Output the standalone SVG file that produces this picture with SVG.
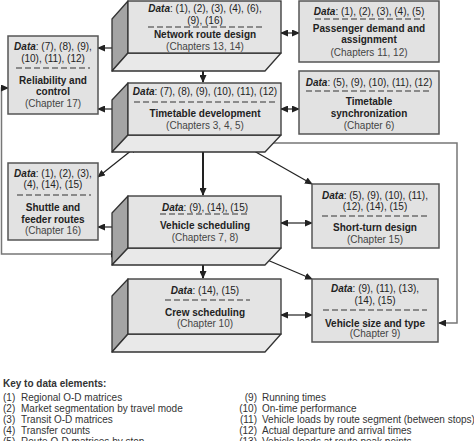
<svg xmlns="http://www.w3.org/2000/svg" width="474" height="441" viewBox="0 0 474 441">
<style>
text{font-family:"Liberation Sans",Arial,sans-serif;font-size:10px;fill:#222;text-anchor:middle}
.b{font-weight:bold}
.d{font-weight:bold;font-style:italic}
.c{fill:#444}
.k{text-anchor:start;fill:#333}
.kr{text-anchor:end;fill:#333}
.front{fill:#e4e4e4;stroke:#333;stroke-width:1.3}
.side{fill:#a4a4a4;stroke:#333;stroke-width:1.3;stroke-linejoin:round}
.bot{fill:#e9e9e9;stroke:#333;stroke-width:1.3;stroke-linejoin:round}
.box{fill:#e2e2e2;stroke:#555;stroke-width:1.5}
.dash{stroke:#333;stroke-width:1.2;stroke-dasharray:6 3;fill:none}
.ar{stroke:#222;stroke-width:1.2;fill:none}
.ar2{stroke:#222;stroke-width:2;fill:none}
.ln{stroke:#777;stroke-width:1.5;fill:none}
</style>
<defs>
<marker id="ah" markerUnits="userSpaceOnUse" markerWidth="8" markerHeight="7" refX="7" refY="3.5" orient="auto-start-reverse">
<path d="M0,0 L8,3.5 L0,7 z" fill="#222"/>
</marker>
</defs>

<g id="connectors">
<path class="ar2" d="M203,64 V82" marker-end="url(#ah)"/>
<path class="ar2" d="M203,147 V195" marker-end="url(#ah)"/>
<path class="ar2" d="M203,256 V278" marker-end="url(#ah)"/>
<path class="ar" d="M98,48 H121" marker-start="url(#ah)" marker-end="url(#ah)"/>
<path class="ar" d="M98,109 H121" marker-start="url(#ah)" marker-end="url(#ah)"/>
<path class="ar" d="M281,33 H299" marker-start="url(#ah)" marker-end="url(#ah)"/>
<path class="ar" d="M281,109 H299" marker-start="url(#ah)" marker-end="url(#ah)"/>
<path class="ar" d="M98,227 H121" marker-start="url(#ah)" marker-end="url(#ah)"/>
<path class="ar" d="M281,223 H312" marker-start="url(#ah)" marker-end="url(#ah)"/>
<path class="ar" d="M281,315 H312" marker-start="url(#ah)" marker-end="url(#ah)"/>
<path class="ar" d="M98,177 L137,146" marker-start="url(#ah)" marker-end="url(#ah)"/>
<path class="ar" d="M240,143 L312,184" marker-start="url(#ah)" marker-end="url(#ah)"/>
<path class="ar" d="M258,256 L312,279" marker-start="url(#ah)" marker-end="url(#ah)"/>
<path class="ln" d="M8,88 H1.5 V254 H118" marker-start="url(#ah)" marker-end="url(#ah)"/>
<path class="ln" d="M260,143 H457 V323 H439" marker-start="url(#ah)" marker-end="url(#ah)"/>
</g>

<g id="network">
<polygon class="side" points="128,1 112,19 112,71 128,53"/>
<polygon class="bot" points="128,53 281,53 265,71 112,71"/>
<rect class="front" x="128" y="1" width="153" height="52"/>
<text x="205" y="12"><tspan class="d">Data</tspan>: (1), (2), (3), (4), (6),</text>
<text x="205" y="24">(9), (16)</text>
<line class="dash" x1="148" y1="27" x2="262" y2="27"/>
<text class="b" x="205" y="38">Network route design</text>
<text class="c" x="205" y="50">(Chapters 13, 14)</text>
</g>

<g id="timetable">
<polygon class="side" points="128,83 112,100 112,152 128,135"/>
<polygon class="bot" points="128,135 281,135 265,152 112,152"/>
<rect class="front" x="128" y="83" width="153" height="52"/>
<text x="205" y="95"><tspan class="d">Data</tspan>: (7), (8), (9), (10), (11), (12)</text>
<line class="dash" x1="134" y1="102" x2="275" y2="102"/>
<text class="b" x="205" y="117">Timetable development</text>
<text class="c" x="205" y="129">(Chapters 3, 4, 5)</text>
</g>

<g id="vehiclescheduling">
<polygon class="side" points="128,196 112,213 112,265 128,248"/>
<polygon class="bot" points="128,248 281,248 265,265 112,265"/>
<rect class="front" x="128" y="196" width="153" height="52"/>
<text x="205" y="211"><tspan class="d">Data</tspan>: (9), (14), (15)</text>
<line class="dash" x1="160" y1="214" x2="248" y2="214"/>
<text class="b" x="205" y="229">Vehicle scheduling</text>
<text class="c" x="205" y="241">(Chapters 7, 8)</text>
</g>

<g id="crew">
<polygon class="side" points="128,279 112,296 112,352 128,334"/>
<polygon class="bot" points="128,334 281,334 265,352 112,352"/>
<rect class="front" x="128" y="279" width="153" height="55"/>
<text x="205" y="294"><tspan class="d">Data</tspan>: (14), (15)</text>
<line class="dash" x1="165" y1="300" x2="250" y2="300"/>
<text class="b" x="205" y="316">Crew scheduling</text>
<text class="c" x="205" y="327">(Chapter 10)</text>
</g>

<g id="reliability">
<rect class="box" x="8" y="36" width="90" height="78"/>
<text x="53" y="50"><tspan class="d">Data</tspan>: (7), (8), (9),</text>
<text x="53" y="62">(10), (11), (12)</text>
<line class="dash" x1="16" y1="68" x2="90" y2="68"/>
<text class="b" x="53" y="84">Reliability and</text>
<text class="b" x="53" y="95">control</text>
<text class="c" x="53" y="107">(Chapter 17)</text>
</g>

<g id="shuttle">
<rect class="box" x="8" y="163" width="90" height="77"/>
<text x="53" y="177"><tspan class="d">Data</tspan>: (1), (2), (3),</text>
<text x="53" y="188">(4), (14), (15)</text>
<line class="dash" x1="17" y1="195" x2="91" y2="195"/>
<text class="b" x="53" y="211">Shuttle and</text>
<text class="b" x="53" y="223">feeder routes</text>
<text class="c" x="53" y="234">(Chapter 16)</text>
</g>

<g id="passenger">
<rect class="box" x="299" y="1" width="140" height="61"/>
<text x="369" y="15"><tspan class="d">Data</tspan>: (1), (2), (3), (4), (5)</text>
<line class="dash" x1="315" y1="19" x2="425" y2="19"/>
<text class="b" x="369" y="32">Passenger demand and</text>
<text class="b" x="369" y="43">assignment</text>
<text class="c" x="369" y="56">(Chapters 11, 12)</text>
</g>

<g id="sync">
<rect class="box" x="299" y="71" width="140" height="63"/>
<text x="369" y="86"><tspan class="d">Data</tspan>: (5), (9), (10), (11), (12)</text>
<line class="dash" x1="306" y1="91" x2="431" y2="91"/>
<text class="b" x="369" y="105">Timetable</text>
<text class="b" x="369" y="117">synchronization</text>
<text class="c" x="369" y="129">(Chapter 6)</text>
</g>

<g id="shortturn">
<rect class="box" x="312" y="184" width="127" height="64"/>
<text x="375" y="199"><tspan class="d">Data</tspan>: (5), (9), (10), (11),</text>
<text x="375" y="210">(12), (14), (15)</text>
<line class="dash" x1="322" y1="216" x2="427" y2="216"/>
<text class="b" x="375" y="231">Short-turn design</text>
<text class="c" x="375" y="243">(Chapter 15)</text>
</g>

<g id="vehiclesize">
<rect class="box" x="312" y="279" width="126" height="63"/>
<text x="375" y="292"><tspan class="d">Data</tspan>: (9), (11), (13),</text>
<text x="375" y="304">(14), (15)</text>
<line class="dash" x1="323" y1="310" x2="427" y2="310"/>
<text class="b" x="375" y="327">Vehicle size and type</text>
<text class="c" x="375" y="337">(Chapter 9)</text>
</g>

<g id="key">
<text class="k b" x="3" y="387">Key to data elements:</text>
<text class="k" x="3" y="401">(1)</text><text class="k" x="21" y="401">Regional O-D matrices</text>
<text class="k" x="3" y="412">(2)</text><text class="k" x="21" y="412">Market segmentation by travel mode</text>
<text class="k" x="3" y="423">(3)</text><text class="k" x="21" y="423">Transit O-D matrices</text>
<text class="k" x="3" y="434">(4)</text><text class="k" x="21" y="434">Transfer counts</text>
<text class="k" x="3" y="445">(5)</text><text class="k" x="21" y="445">Route O-D matrices by stop</text>
<text class="kr" x="257" y="401">(9)</text><text class="k" x="262" y="401">Running times</text>
<text class="kr" x="257" y="412">(10)</text><text class="k" x="262" y="412">On-time performance</text>
<text class="kr" x="257" y="423">(11)</text><text class="k" x="262" y="423">Vehicle loads by route segment (between stops)</text>
<text class="kr" x="257" y="434">(12)</text><text class="k" x="262" y="434">Actual departure and arrival times</text>
<text class="kr" x="257" y="445">(13)</text><text class="k" x="262" y="445">Vehicle loads at route peak points</text>
</g>
</svg>
